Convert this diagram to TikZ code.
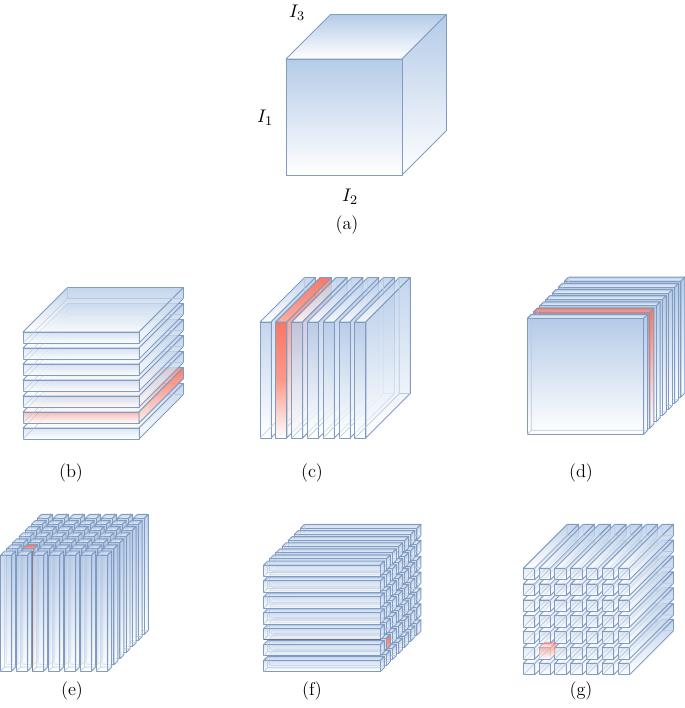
\documentclass[tikz,border=0pt]{standalone}
\usepackage{amsmath}
\usepackage{tikz}
\definecolor{tenblue}{RGB}{181,203,232}
\definecolor{tenred}{RGB}{250,118,98}
\definecolor{edgeblue}{RGB}{128,156,194}
\tikzset{
    face/.style={draw=edgeblue, line width=0.55pt, top color=#1, bottom color=white, fill opacity=0.8, line join=round},
    redface/.style={draw=edgeblue, line width=0.55pt, top color=tenred, bottom color=tenred!65!white, fill opacity=0.9, line join=round},
    hiddenedge/.style={draw=edgeblue!55, line width=0.4pt},
    caption/.style={font=\fontsize{11}{13}\selectfont, inner sep=0pt}
}
% style x y width depth
\newcommand{\topface}[5]{%
    \draw [#1] (#2,#3) -- (#2+#5,#3-#5) -- (#2+#4+#5,#3-#5) -- (#2+#4,#3) -- cycle;
}
% style x y height depth, (x,y) is the top right corner of the front face
\newcommand{\rightface}[5]{%
    \draw [#1] (#2,#3) -- (#2+#5,#3-#5) -- (#2+#5,#3+#4-#5) -- (#2,#3+#4) -- cycle;
}
% x y width height depth colour, (x,y) is the top left corner of the front face
\newcommand{\cuboid}[6]{%
    \topface{face=#6}{#1}{#2}{#3}{#5}
    \rightface{face=#6}{#1+#3}{#2}{#4}{#5}
    \draw [face=#6!\fronttint!white] (#1,#2) rectangle (#1+#3,#2+#4);
    \draw [hiddenedge] (#1,#2+#4) -- (#1+#5,#2+#4-#5) -- (#1+#5,#2-#5)
        (#1+#5,#2+#4-#5) -- (#1+#3+#5,#2+#4-#5);
}
\begin{document}
\begin{tikzpicture}[x=0.6pt, y=-0.6pt]
    \useasboundingbox (0,0) rectangle (685,708);
    % (a) whole tensor
    \def\fronttint{100}
    \begin{scope}[face/.append style={fill opacity=1}, hiddenedge/.style={draw=none}]
        \cuboid{286}{59}{116}{116}{44.5}{tenblue}
    \end{scope}
    \node (Ione) [caption] at (265,118) {$I_1$};
    \node (Itwo) [caption] at (350,197) {$I_2$};
    \node (Ithree) [caption] at (297,13) {$I_3$};
    \node (capa) [caption] at (347,225) {(a)};
    % (b) horizontal slices
    \def\fronttint{60}
    \foreach \k in {6,...,0} {
        \ifnum\k=5 \def\slabcol{tenred}\else \def\slabcol{tenblue}\fi
        \cuboid{23}{332+16*\k}{116}{11}{44.5}{\slabcol}
    }
    \rightface{redface, fill opacity=0.75, bottom color=tenred!15!white}{139}{412}{11}{44.5}
    \node (capb) [caption] at (71,473) {(b)};
    % (c) lateral slices
    \def\fronttint{100}
    \foreach \k in {0,...,6} {
        \ifnum\k=1 \def\slabcol{tenred}\else \def\slabcol{tenblue}\fi
        \cuboid{260+15.8*\k}{322}{11}{116}{44.5}{\slabcol}
    }
    \topface{redface}{275.8}{322}{11}{44.5}
    \draw [face=tenred, fill opacity=0.95, middle color=tenred!75!white] (275.8,322) rectangle (286.8,438);
    \node (capc) [caption] at (312,473) {(c)};
    % (d) frontal slices
    \begin{scope}[face/.append style={fill opacity=1}]
        \foreach \k in {6,...,0} {
            \ifnum\k=1 \def\slabcol{tenred}\else \def\slabcol{tenblue}\fi
            \cuboid{527.3+6.2*\k}{318.3-6.2*\k}{116.4}{116}{4}{\slabcol}
        }
    \end{scope}
    \topface{redface}{533.5}{312.1}{116.4}{4}
    \node (capd) [caption] at (581,473) {(d)};
    % (e) columns
    \def\fronttint{90}
    \foreach \j in {6,...,0} {
        \foreach \k in {0,...,6} {
            \cuboid{0.7+16*\k+6.1*\j}{555-6.1*\j}{11}{116}{4}{tenblue}
        }
    }
    \topface{redface, fill opacity=1}{22.8}{548.9}{11}{4}
    \coordinate (etop) at (32,551);
    \coordinate (ebot) at (32,671);
    \draw [draw=tenred!35!edgeblue!85!black, line width=0.55pt] (etop) -- (ebot);
    \node (cape) [caption] at (72,691) {(e)};
    % (f) rows
    \def\fronttint{65}
    \foreach \j in {6,...,0} {
        \foreach \k in {0,...,6} {
            \cuboid{263.7+6.1*\j}{565-6.1*\j+15.9*\k}{116.6}{11.3}{4}{tenblue}
        }
    }
    \rightface{redface, fill opacity=1}{386.4}{638.2}{11.3}{4}
    \coordinate (fleft) at (264,639.6);
    \coordinate (fright) at (381,639.6);
    \draw [draw=tenred!20!edgeblue!75!black, line width=0.7pt] (fleft) -- (fright);
    \node (capf) [caption] at (312,691) {(f)};
    % (g) tubes
    \def\fronttint{50}
    \foreach \i in {0,...,6} {
        \foreach \k in {6,...,0} {
            \cuboid{523.3+15.8*\i}{568.3+15.85*\k}{11.4}{11.4}{44}{tenblue}
        }
    }
    \begin{scope}[face/.append style={fill opacity=0.6, draw=none}, hiddenedge/.style={draw=none}]
        \def\fronttint{70}
        \cuboid{539.1}{647.4}{11.4}{11.4}{5.5}{tenred}
    \end{scope}
    \node (capg) [caption] at (581,691) {(g)};
\end{tikzpicture}
\end{document}
